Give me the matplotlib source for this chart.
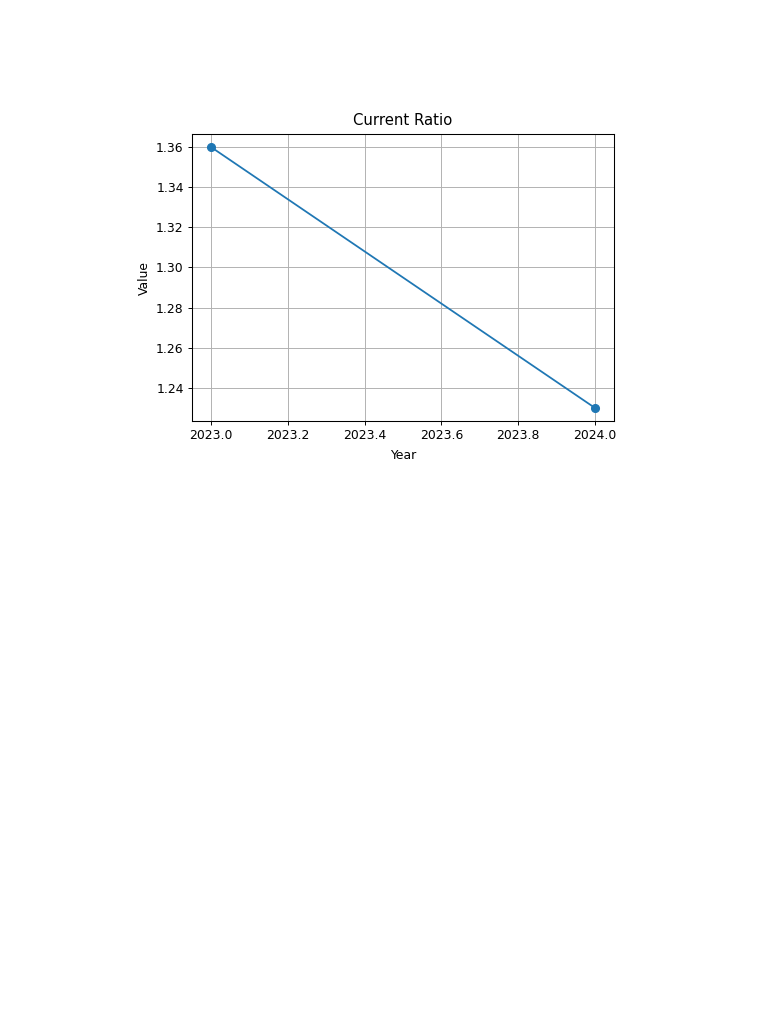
import matplotlib
matplotlib.use("Agg")
import matplotlib.pyplot as plt

# data
years = [2023, 2024]
values = [1.36, 1.23]

s = 0.85   # the chart sits scaled down on the page
fs = 0.89  # text looks a touch bigger than the plain scale

fig = plt.figure(figsize=(7.68, 10.24), dpi=100)
ax = fig.add_axes([0.25, 0.589, 0.5495, 0.280])

ax.plot(years, values, marker="o", color="#1f77b4", linewidth=1.5 * s, markersize=6.5 * s)
ax.set_title("Current Ratio", fontsize=12 * fs, pad=6.5)
ax.set_xlabel("Year", fontsize=10 * fs, labelpad=5)
ax.set_ylabel("Value", fontsize=10 * fs, labelpad=4 * s)
ax.tick_params(labelsize=10 * fs, width=0.8 * s, length=3.5 * s, pad=3.5 * s)
for sp in ax.spines.values():
    sp.set_linewidth(0.9 * s)
ax.grid(True, linewidth=0.8 * s, color="#b0b0b0")

fig.savefig("out.png", dpi=100)
plt.close(fig)
